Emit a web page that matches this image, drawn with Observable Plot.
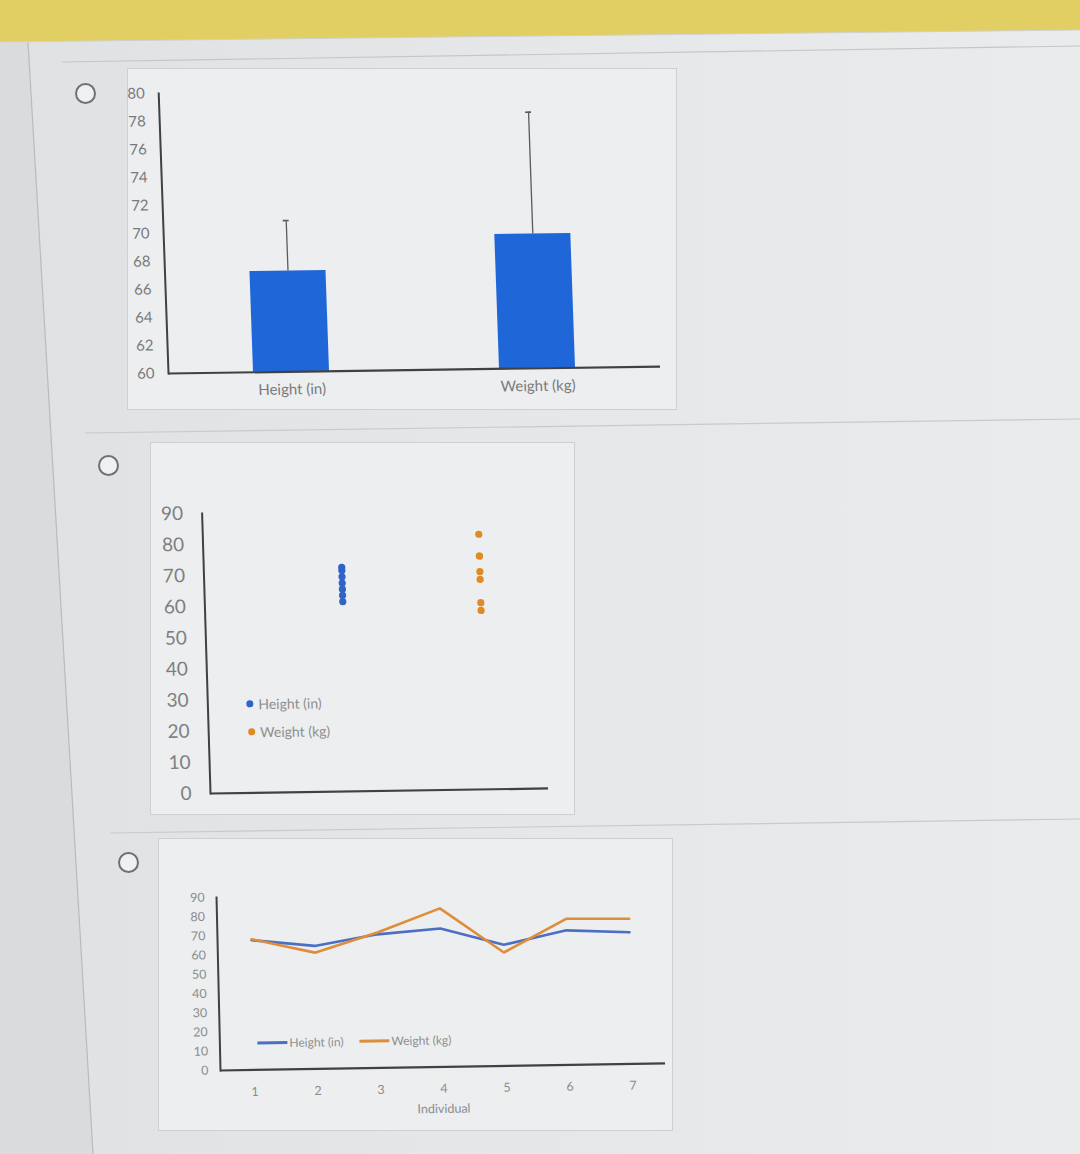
<!DOCTYPE html>
<html>
<head>
<meta charset="utf-8">
<script src="https://cdn.jsdelivr.net/npm/d3@7"></script>
<script src="https://cdn.jsdelivr.net/npm/@observablehq/plot@0.6"></script>
<style>
html,body{margin:0;padding:0;}
body{width:1080px;height:1154px;position:relative;overflow:hidden;
  background:linear-gradient(to right,#dfe1e3 0%,#e4e6e8 40%,#e9ebec 100%);
  font-family:Lato,"Open Sans",sans-serif;}
#decor{position:absolute;left:0;top:0;}
.panel{position:absolute;background:#eceeef;border:1px solid #cdd0d1;box-sizing:border-box;}
.radio{position:absolute;width:21px;height:21px;border:2px solid #6e7072;border-radius:50%;box-sizing:border-box;background:#eef0f1;}
.wrap{position:absolute;}
.wrap svg{position:absolute;left:0;top:0;overflow:visible;}
.leg{position:absolute;display:flex;align-items:center;white-space:nowrap;color:#8c8e90;}
.leg .dot{display:inline-block;width:7px;height:7px;border-radius:50%;margin-right:5px;}
.leg .ln{display:inline-block;width:30px;height:2.5px;margin-right:2px;}
</style>
</head>
<body>
<svg id="decor" width="1080" height="1154">
  <polygon points="0,0 1080,0 1080,30 0,42" fill="#e2cf64"/>
  <polygon points="0,42 28,42 93,1154 0,1154" fill="#d9dbdd"/>
  <line x1="28" y1="42" x2="93" y2="1154" stroke="#b9bbbd" stroke-width="1.2"/>
  <line x1="0" y1="42" x2="1080" y2="30" stroke="#cfd1d2" stroke-width="1"/>
  <line x1="62" y1="62" x2="1080" y2="46" stroke="#c4c6c8" stroke-width="1.2"/>
  <line x1="85" y1="433" x2="1080" y2="419" stroke="#c8cacc" stroke-width="1.2"/>
  <line x1="110" y1="833" x2="1080" y2="819" stroke="#c8cacc" stroke-width="1.2"/>
</svg>

<div class="radio" style="left:75px;top:83px"></div>
<div class="radio" style="left:98px;top:455px"></div>
<div class="radio" style="left:118px;top:852px"></div>

<div class="panel" style="left:127px;top:68px;width:550px;height:342px"></div>
<div class="panel" style="left:150px;top:442px;width:425px;height:373px"></div>
<div class="panel" style="left:158px;top:838px;width:515px;height:293px"></div>

<div class="wrap" id="c1" style="left:127px;top:68px;width:550px;height:342px;transform-origin:41px 305px;transform:matrix(1,-0.014,0.035,1,0,0)"></div>
<div class="wrap" id="c2" style="left:150px;top:442px;width:425px;height:373px;transform-origin:60px 351px;transform:matrix(1,-0.015,0.03,1,0,0)">
  <div class="leg" style="left:99px;top:254px;font-size:14px"><span class="dot" id="lg2a"></span>Height (in)</div>
  <div class="leg" style="left:100px;top:282px;font-size:14px"><span class="dot" id="lg2b"></span>Weight (kg)</div>
</div>
<div class="wrap" id="c3" style="left:158px;top:838px;width:515px;height:293px;transform-origin:62px 232px;transform:matrix(1,-0.016,0.023,1,0,0)">
  <div class="leg" style="left:100px;top:198px;font-size:12px"><span class="ln" id="lg3a"></span>Height (in)</div>
  <div class="leg" style="left:202px;top:198px;font-size:12px"><span class="ln" id="lg3b"></span>Weight (kg)</div>
</div>

<script>
// ---- Data ----
const barCategories = ["Height (in)", "Weight (kg)"];
const barMeans = [67.2, 69.6];
const barErrors = [3.6, 8.7];
const barTicks = [60, 62, 64, 66, 68, 70, 72, 74, 76, 78, 80];

const seriesNames = ["Height (in)", "Weight (kg)"];
const scatterX = [1, 2];
const scatterXDomain = [0, 2.45];
const scatterHeight = [72, 71, 69, 67, 65, 63, 61];
const scatterWeight = [82, 75, 75, 70, 67.5, 60, 57.5];
const scatterTicks = [0, 10, 20, 30, 40, 50, 60, 70, 80, 90];

const individuals = [1, 2, 3, 4, 5, 6, 7];
const lineHeight = [67.5, 64, 69.5, 72, 63, 70, 68.5];
const lineWeight = [68, 60.5, 70.5, 82.5, 59, 76, 75.5];
const lineTicks = [0, 10, 20, 30, 40, 50, 60, 70, 80, 90];

// ---- Colors ----
const barBlue = "#1f66d8";
const dotColors = ["#2f63c6", "#e08a24"];
const lineColors = ["#4a6fc4", "#de8e3a"];
const axisColor = "#3f4142";
const font = "Lato, 'Open Sans', sans-serif";

// ---- Chart 1: bar chart with error bars ----
const barData = barCategories.map((c, i) => ({cat: c, mean: barMeans[i], err: barErrors[i]}));
const c1 = Plot.plot({
  width: 550, height: 342,
  marginLeft: 41, marginRight: 17, marginTop: 25, marginBottom: 37,
  style: {background: "transparent", fontFamily: font, fontSize: "15px", color: "#787a7c", overflow: "visible"},
  x: {domain: barCategories, paddingInner: 0.69, paddingOuter: 0.345, label: null, tickSize: 0, tickPadding: 12},
  y: {domain: [barTicks[0], barTicks[barTicks.length - 1]], ticks: barTicks, label: null, tickSize: 0, tickPadding: 14},
  marks: [
    Plot.barY(barData, {x: "cat", y1: barTicks[0], y2: "mean", fill: barBlue}),
    Plot.ruleX(barData, {x: "cat", y1: "mean", y2: d => d.mean + d.err, stroke: "#5a5c5e", strokeWidth: 1.3}),
    Plot.tickY(barData, {x: "cat", y: d => d.mean + d.err, stroke: "#5a5c5e", strokeWidth: 1.6, insetLeft: 35, insetRight: 35}),
    Plot.ruleY([barTicks[0]], {stroke: axisColor, strokeWidth: 2.2}),
    Plot.frame({anchor: "left", stroke: axisColor, strokeWidth: 2})
  ]
});
document.getElementById("c1").appendChild(c1);

// ---- Chart 2: dot plot ----
const scatterData = [
  ...scatterHeight.map(v => ({s: seriesNames[0], x: scatterX[0], v})),
  ...scatterWeight.map(v => ({s: seriesNames[1], x: scatterX[1], v}))
];
const c2 = Plot.plot({
  width: 425, height: 373,
  marginLeft: 60, marginRight: 27, marginTop: 71, marginBottom: 22,
  style: {background: "transparent", fontFamily: font, fontSize: "19px", color: "#7d7f81", overflow: "visible"},
  x: {domain: scatterXDomain, axis: null},
  y: {domain: [scatterTicks[0], scatterTicks[scatterTicks.length - 1]], ticks: scatterTicks, label: null, tickSize: 0, tickPadding: 19},
  color: {domain: seriesNames, range: dotColors},
  marks: [
    Plot.dot(scatterData, {x: "x", y: "v", fill: "s", r: 3.6}),
    Plot.ruleY([scatterTicks[0]], {stroke: axisColor, strokeWidth: 2.2}),
    Plot.frame({anchor: "left", stroke: axisColor, strokeWidth: 2})
  ]
});
document.getElementById("c2").prepend(c2);
document.getElementById("lg2a").style.background = dotColors[0];
document.getElementById("lg2b").style.background = dotColors[1];

// ---- Chart 3: line chart ----
const lineData = [
  ...individuals.map((k, i) => ({s: seriesNames[0], k, v: lineHeight[i]})),
  ...individuals.map((k, i) => ({s: seriesNames[1], k, v: lineWeight[i]}))
];
const c3 = Plot.plot({
  width: 515, height: 293,
  marginLeft: 62, marginRight: 8, marginTop: 59, marginBottom: 61,
  style: {background: "transparent", fontFamily: font, fontSize: "12.5px", color: "#8a8c8e", overflow: "visible"},
  x: {type: "point", domain: individuals, padding: 0.5, tickSize: 0, tickPadding: 17, label: "Individual", labelAnchor: "center", labelOffset: 46},
  y: {domain: [lineTicks[0], lineTicks[lineTicks.length - 1]], ticks: lineTicks, label: null, tickSize: 0, tickPadding: 12},
  color: {domain: seriesNames, range: lineColors},
  marks: [
    Plot.lineY(lineData, {x: "k", y: "v", stroke: "s", strokeWidth: 2.6}),
    Plot.ruleY([lineTicks[0]], {stroke: axisColor, strokeWidth: 2.2}),
    Plot.frame({anchor: "left", stroke: axisColor, strokeWidth: 2})
  ]
});
document.getElementById("c3").prepend(c3);
document.getElementById("lg3a").style.background = lineColors[0];
document.getElementById("lg3b").style.background = lineColors[1];
</script>
</body>
</html>
